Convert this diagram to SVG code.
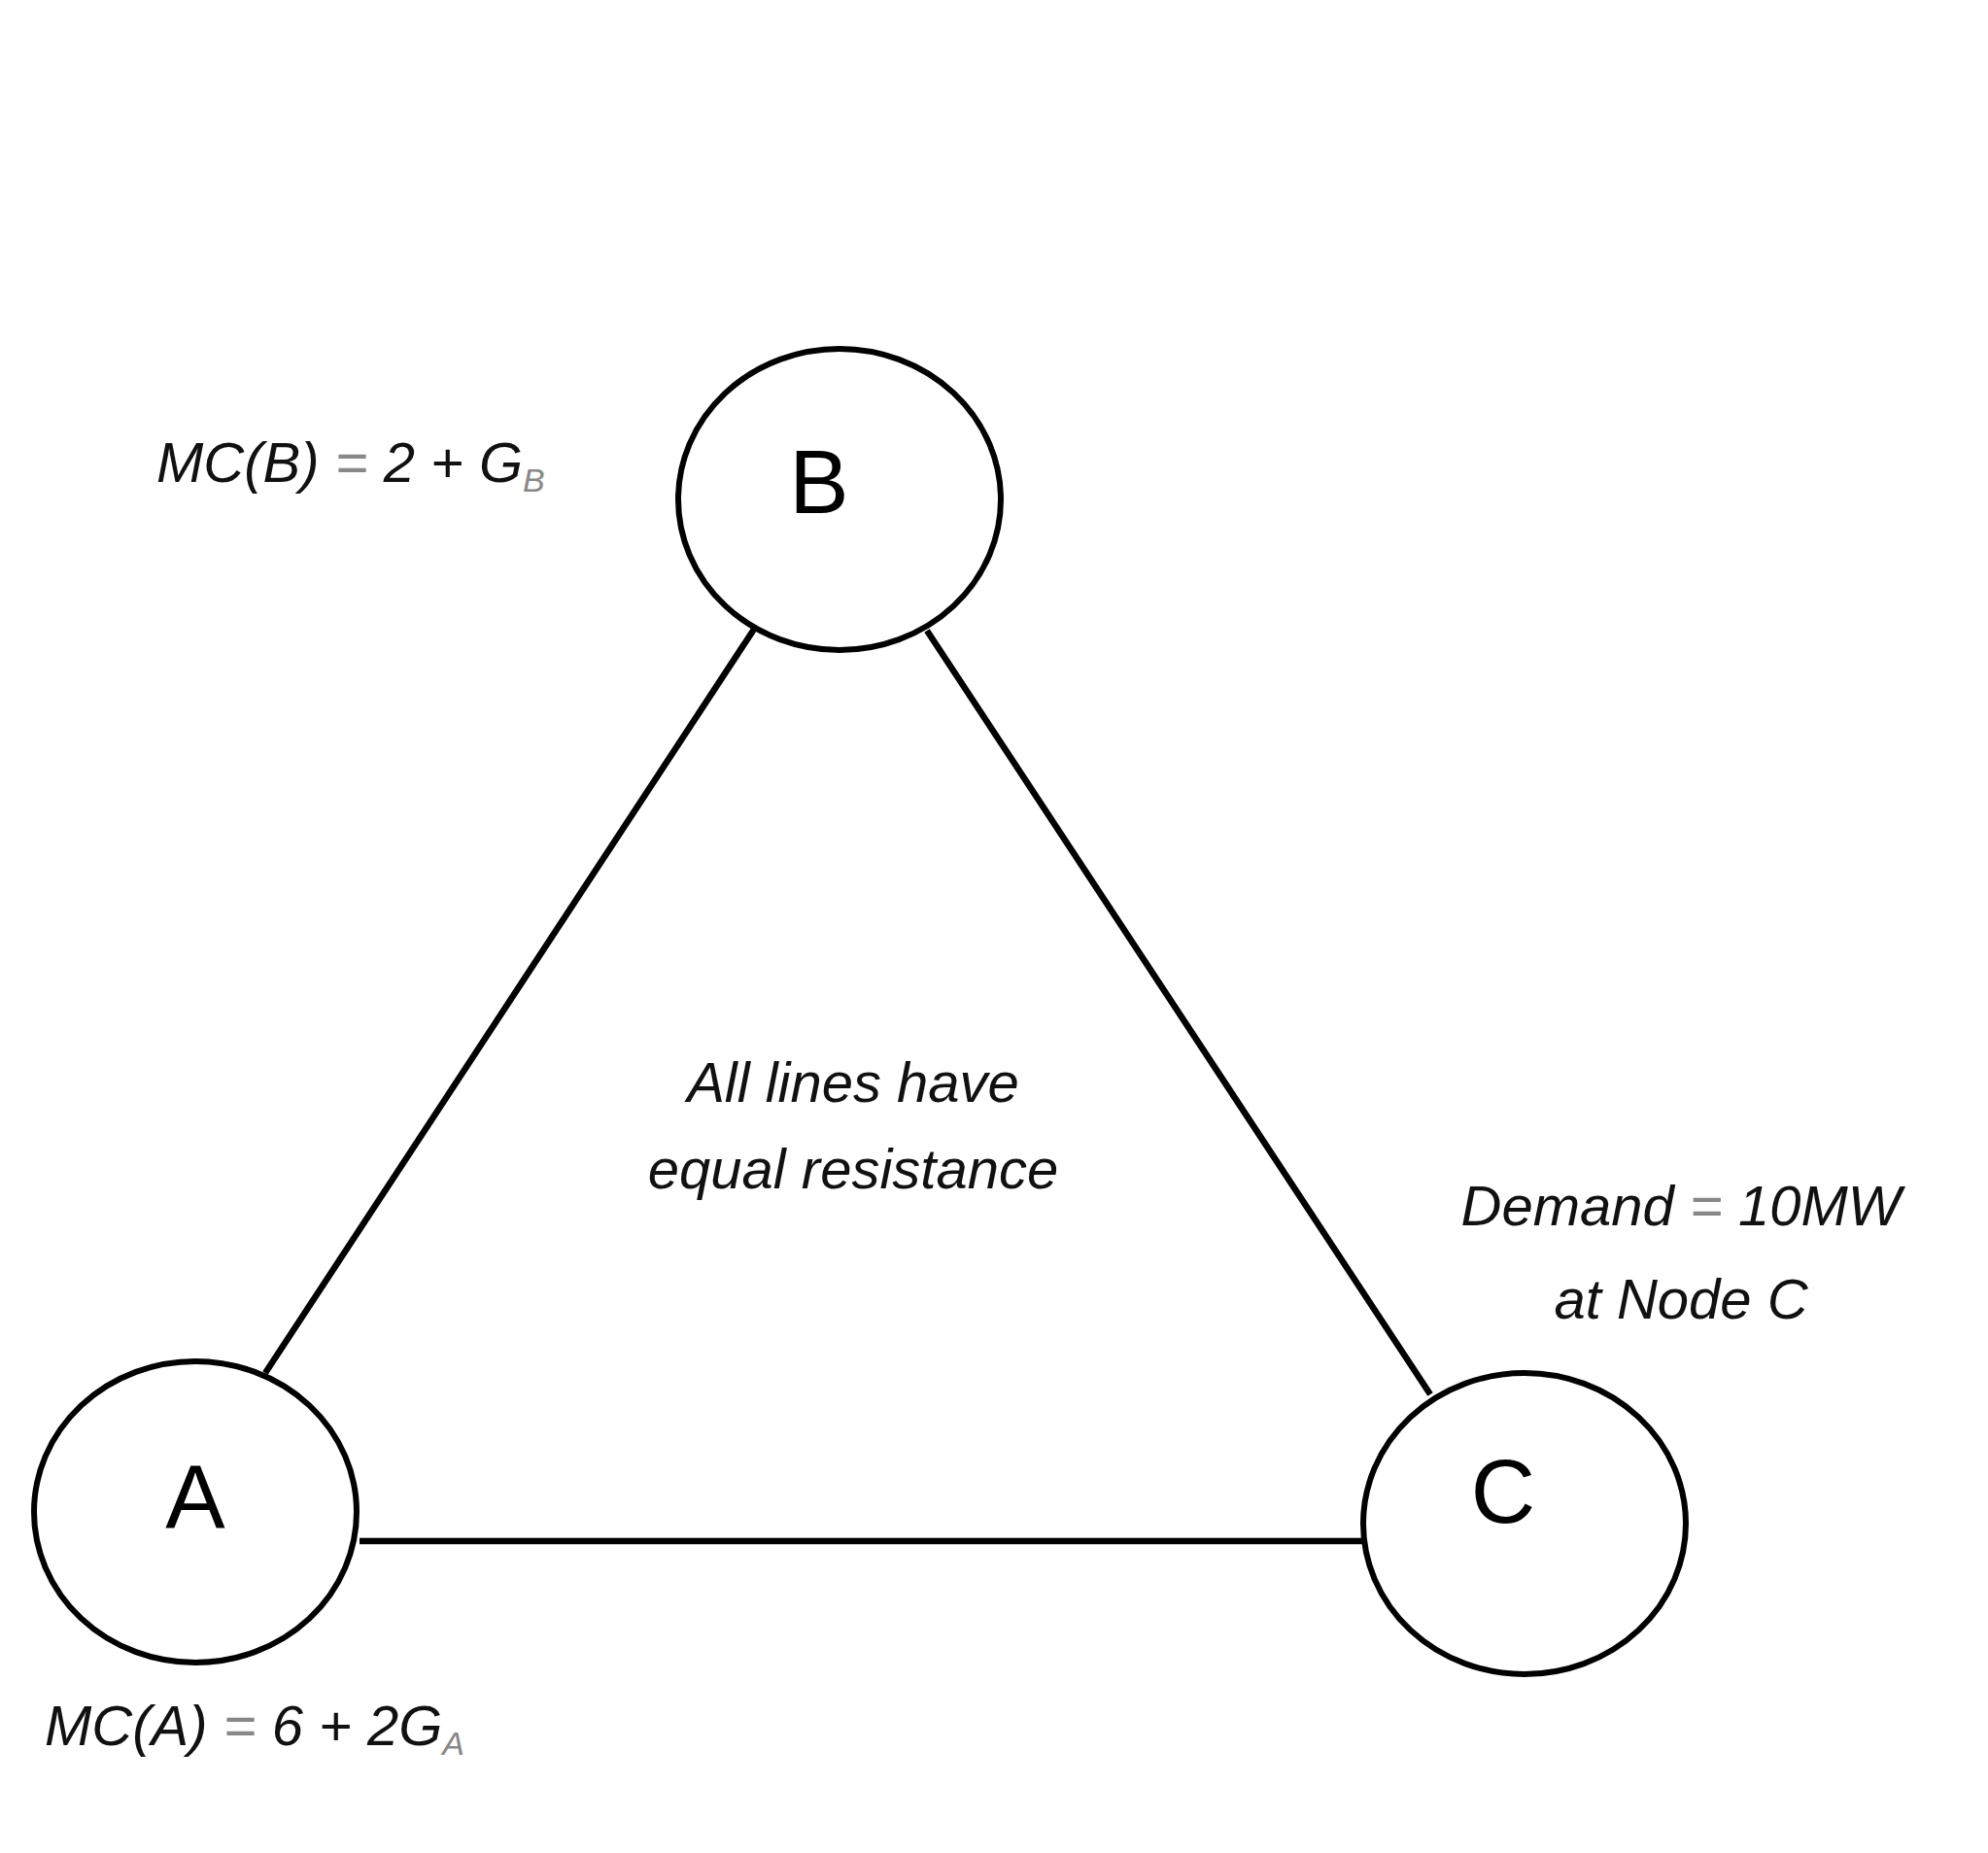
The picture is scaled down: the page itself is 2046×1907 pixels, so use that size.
<svg xmlns="http://www.w3.org/2000/svg" width="2046" height="1907" viewBox="0 0 2046 1907">
<style>
.node{fill:#fff;stroke:#000;stroke-width:6}
.edge{stroke:#000;stroke-width:6.5;fill:none}
.lbl{font-family:"Liberation Sans",Arial,sans-serif;font-size:92px;text-anchor:middle;fill:#000}
.t{font-family:"Liberation Sans",Arial,sans-serif;font-style:italic;font-size:58px;fill:#111}
.g{fill:#888}
</style>
<rect width="2046" height="1907" fill="#fff"/>
<g id="connectors">
<line class="edge" x1="777" y1="646" x2="273" y2="1413"/>
<line class="edge" x1="954" y1="649" x2="1472" y2="1435"/>
<line class="edge" x1="370" y1="1586" x2="1403" y2="1586"/>
</g>
<g id="nodeB"><ellipse class="node" cx="864" cy="514" rx="166" ry="155"/><text class="lbl" x="843" y="528">B</text></g>
<g id="nodeA"><ellipse class="node" cx="201" cy="1556" rx="166" ry="155"/><text class="lbl" x="201" y="1573">A</text></g>
<g id="nodeC"><ellipse class="node" cx="1569" cy="1568" rx="166" ry="155"/><text class="lbl" x="1547" y="1567">C</text></g>
<g id="labels">
<text class="t" x="161" y="496">MC(B) <tspan class="g">=</tspan> 2 + G<tspan class="g" font-size="34" dy="10">B</tspan></text>
<text class="t" x="46" y="1796">MC(A) <tspan class="g">=</tspan> 6 + 2G<tspan class="g" font-size="34" dy="10">A</tspan></text>
<text class="t" x="878" y="1134" text-anchor="middle">All lines have</text>
<text class="t" x="878" y="1223" text-anchor="middle">equal resistance</text>
<text class="t" x="1730" y="1261" text-anchor="middle">Demand <tspan class="g">=</tspan> 10MW</text>
<text class="t" x="1730" y="1357" text-anchor="middle">at Node C</text>
</g>
</svg>
